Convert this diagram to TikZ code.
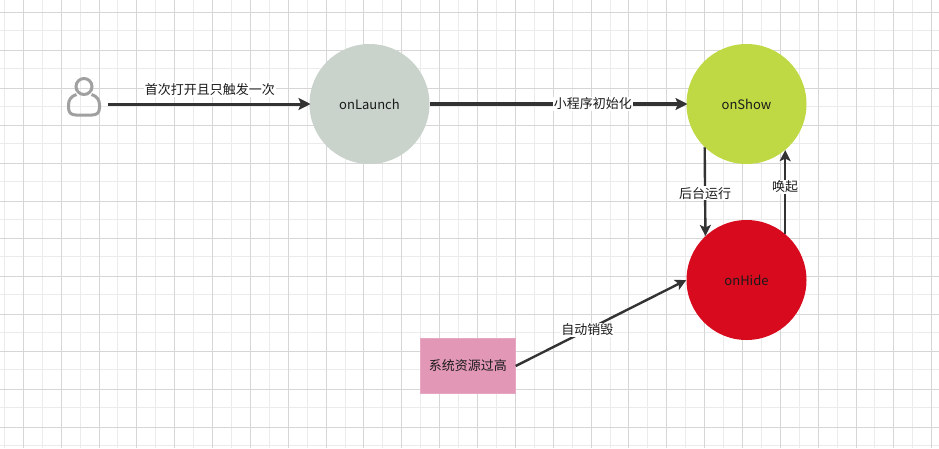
\documentclass[tikz,border=0pt]{standalone}
\usepackage{fontspec}
\setmainfont{Noto Sans CJK SC}
\usetikzlibrary{arrows.meta}
\definecolor{ink}{HTML}{333333}
\definecolor{txt}{HTML}{1A1A1A}
\definecolor{gridmajor}{HTML}{D6D6D6}
\definecolor{gridminor}{HTML}{EBEBEB}
\definecolor{launchc}{HTML}{C9D3CC}
\definecolor{showc}{HTML}{BFD944}
\definecolor{hidec}{HTML}{D80A1E}
\definecolor{rectc}{HTML}{E197B5}
\definecolor{iconc}{HTML}{A0A0A0}
\tikzset{
  every node/.style={font=\fontsize{13}{15}\selectfont,text=txt},
  state/.style={circle,minimum size=120pt,inner sep=0pt},
  flow/.style={draw=ink,shorten >=-1.2pt,-{Stealth[length=12pt,width=12pt,inset=2.5pt]}},
  flowthin/.style={draw=ink,-{Stealth[length=11pt,width=11pt,inset=2.5pt]}},
  tag/.style={fill=white,inner sep=1pt,font=\fontsize{13}{15}\selectfont,text=txt},
}
\begin{document}
\begin{tikzpicture}[x=1pt,y=-1pt]
\useasboundingbox (0,0) rectangle (939,448);
\fill[white] (0,0) rectangle (939,448);
% grid
\foreach \i in {0,...,49} {
  \draw[gridminor,line width=1pt] ({4.4+37.85*\i},0) -- ({4.4+37.85*\i},448);
}
\foreach \i in {0,...,12} {
  \draw[gridminor,line width=1pt] (0,{30.6+37.7*\i}) -- (939,{30.6+37.7*\i});
}
\foreach \i in {0,...,24} {
  \draw[gridmajor,line width=1pt] ({23.3+37.85*\i},0) -- ({23.3+37.85*\i},448);
}
\foreach \i in {0,...,11} {
  \draw[gridmajor,line width=1pt] (0,{12.6+37.7*\i}) -- (939,{12.6+37.7*\i});
}
% nodes
\node[state,fill=launchc] (launch) at (369.5,104) {\raisebox{-1pt}{onLaunch}};
\node[state,fill=showc] (show) at (746.5,104) {\raisebox{-1pt}{onShow}};
\node[state,fill=hidec] (hide) at (746.5,280) {\raisebox{-1pt}{onHide}};
\node[fill=rectc,draw=rectc!85!white,line width=0.7pt,minimum width=95pt,minimum height=55pt,inner sep=0pt] (sys) at (467.8,366) {\raisebox{-1pt}{系统资源过高}};
% user icon
\node[minimum width=48pt,minimum height=1pt,inner sep=0pt] (user) at (84,104) {};
\draw[iconc,line width=3pt] (84,86.5) circle[radius=8pt];
\draw[iconc,line width=3pt,line join=round]
  (76.5,94.5) .. controls (71,96) and (68.5,100) .. (68.5,105)
  -- (68.5,107.5) .. controls (68.5,112.5) and (71,115) .. (76,115)
  -- (92,115) .. controls (97,115) and (99.5,112.5) .. (99.5,107.5)
  -- (99.5,105) .. controls (99.5,100) and (97,96) .. (91.5,94.5);
% connectors
\draw[flow,line width=3pt] (user.east) -- (launch.west) node[tag,pos=0.5,xshift=1pt,yshift=14.5pt] {首次打开且只触发一次};
\draw[flow,line width=4pt] (launch.east) -- (show.west) node[tag,pos=0.636] {小程序初始化};
\draw[flowthin,line width=2.4pt] (show.226.2) -- (hide.133.8) node[tag,pos=0.52] {后台运行};
\draw[flowthin,line width=2.4pt] (hide.50.7) -- (show.-50.7) node[tag,pos=0.56] {唤起};
\draw[flowthin,line width=2.4pt] (sys.east) -- (hide.180) node[tag,pos=0.42] {自动销毁};
\end{tikzpicture}
\end{document}
